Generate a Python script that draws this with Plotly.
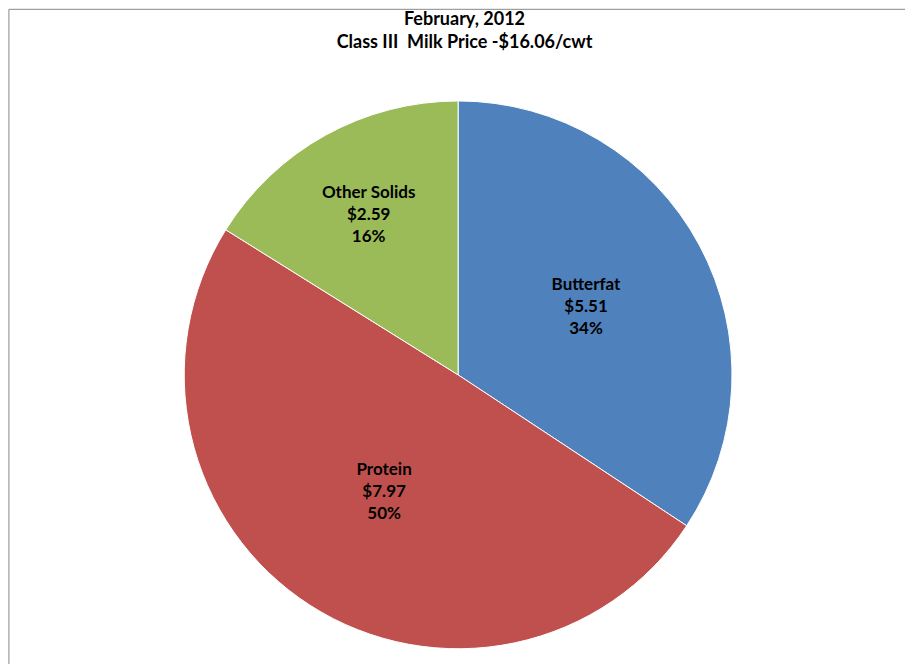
import plotly.graph_objects as go

labels = ["Butterfat", "Protein", "Other Solids"]
values = [5.51, 7.97, 2.59]
pct_labels = ["34%", "50%", "16%"]
colors = ["#4F81BD", "#C0504D", "#9BBB59"]

text = [f"<b>{l}<br>${v:.2f}<br>{p}</b>" for l, v, p in zip(labels, values, pct_labels)]

fig = go.Figure(go.Pie(
    labels=labels, values=values, text=text, textinfo="text",
    textposition="inside", insidetextorientation="horizontal",
    marker=dict(colors=colors, line=dict(color="white", width=1)),
    sort=False, direction="clockwise", rotation=0,
    textfont=dict(family="Lato, Open Sans, sans-serif", size=17, color="black"),
    domain=dict(x=[0.193, 0.793], y=[0.035, 0.86]),
    showlegend=False, hoverinfo="label+value+percent",
))
fig.update_layout(
    width=913, height=664, margin=dict(l=0, r=0, t=0, b=0),
    paper_bgcolor="white",
    title=dict(text="<b>February, 2012<br>Class III  Milk Price -$16.06/cwt</b>",
               x=0.5, y=0.975, xanchor="center", yanchor="top",
               font=dict(family="Lato, Open Sans, sans-serif", size=18, color="black")),
    shapes=[dict(type="rect", xref="paper", yref="paper", x0=0.001, y0=0.006, x1=0.992, y1=0.998,
                 line=dict(color="#888888", width=1))],
)
fig.write_html("out.html")
